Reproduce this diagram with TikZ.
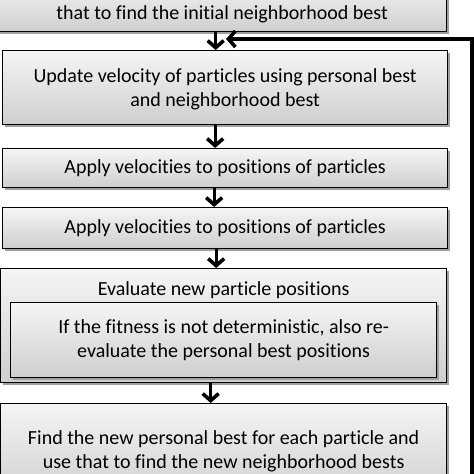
\documentclass[tikz,border=0pt]{standalone}
\usepackage{fontspec}
\setmainfont[Ligatures=CommonOff]{Carlito}
\usetikzlibrary{arrows.meta,shadows}
\begin{document}
\begin{tikzpicture}[x=1pt,y=-1pt,
  box/.style={draw=black,line width=1.3pt,top color=gray!8,bottom color=gray!38,
     drop shadow={shadow xshift=2.5pt,shadow yshift=-2.5pt,fill=gray!75,opacity=1},
     font=\fontsize{20}{24}\selectfont,align=center,inner sep=0pt},
  arr/.style={line width=3.2pt,-{Straight Barb[length=7pt,width=16pt,line width=3.6pt]}}]
\useasboundingbox (0,0) rectangle (474,474);
\node[box,anchor=south west,minimum width=449pt,minimum height=52pt,text height=40pt,text depth=12pt] (top) at (-3,32) {that to find the initial neighborhood best};
\node[box,anchor=north west,minimum width=445pt,minimum height=74pt] (up) at (2,50) {\rule{0pt}{17pt}Update velocity of particles using personal best\\and neighborhood best};
\node[box,anchor=north west,minimum width=445pt,minimum height=39pt] (ap1) at (2,148) {Apply velocities to positions of particles};
\node[box,anchor=north west,minimum width=445pt,minimum height=41pt] (ap2) at (2,207) {Apply velocities to positions of particles};
\node[box,anchor=north west,minimum width=446pt,minimum height=114pt,text height=27pt,text depth=87pt] (ev) at (0,268) {Evaluate new particle positions};
\node[box,anchor=north west,minimum width=426pt,minimum height=75pt] (in) at (10,302) {If the fitness is not deterministic, also re-\\evaluate the personal best positions};
\node[box,anchor=north west,minimum width=446pt,minimum height=95pt] (last) at (0,403) {Find the new personal best for each particle and\\use that to find the new neighborhood bests};
\draw[arr] ([xshift=-6.5pt]top.south) -- ([xshift=-6.5pt]top.south |- up.north);
\draw[arr] ([xshift=-10pt]up.south) -- ([xshift=-10pt]up.south |- ap1.north);
\draw[arr] ([xshift=-11pt]ap1.south) -- ([xshift=-11pt]ap1.south |- ap2.north);
\draw[arr] ([xshift=-9pt]ap2.south) -- ([xshift=-9pt]ap2.south |- ev.north);
\draw[arr] ([xshift=-13pt]ev.south) -- ([xshift=-13pt]ev.south |- last.north);
\coordinate (fbstart) at (472,480);
\coordinate (fbtip) at (226,39);
\draw[arr] (fbstart) |- (fbtip);
\end{tikzpicture}
\end{document}
